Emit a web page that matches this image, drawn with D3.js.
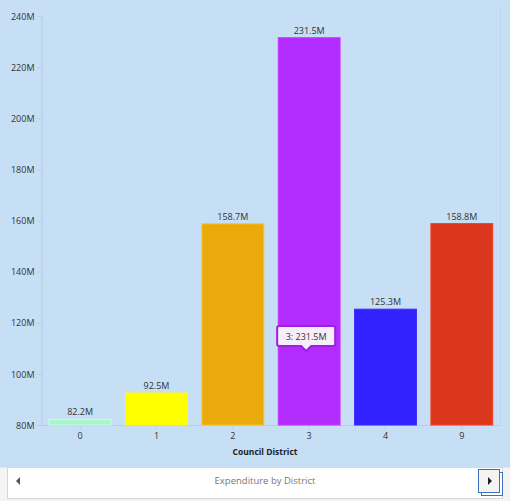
<!DOCTYPE html>
<html>
<head>
<meta charset="utf-8">
<title>Expenditure by District</title>
<style>
  body { margin: 0; background: #c6dff5; font-family: "Open Sans", "Noto Sans", sans-serif; }
  #chart { position: absolute; left: 0; top: 0; width: 510px; height: 501px; }
  text { font-family: "Open Sans", "Noto Sans", sans-serif; }
</style>
</head>
<body>
<div id="chart"></div>
<script src="https://cdn.jsdelivr.net/npm/d3@7"></script>
<script>

var districts = ["0", "1", "2", "3", "4", "9"];
var spending = [82.2, 92.5, 158.7, 231.5, 125.3, 158.8];
var barColors = ["#a9f5c9", "#ffff00", "#ebaa0c", "#b22cff", "#3322ff", "#db371c"];
var yTicks = [80, 100, 120, 140, 160, 180, 200, 220, 240];

var width = 510, height = 501;
var svg = d3.select("#chart").append("svg")
    .attr("width", width)
    .attr("height", height);

svg.append("rect")
    .attr("width", width)
    .attr("height", height)
    .attr("fill", "#c6dff5");

var x = d3.scaleBand()
    .domain(districts)
    .range([42, 500])
    .paddingInner(0.19)
    .paddingOuter(0.095);

var y = d3.scaleLinear()
    .domain([80, 240])
    .range([425, 16]);

// faint right border of plot
svg.append("line")
    .attr("x1", 500.5).attr("x2", 500.5)
    .attr("y1", 8).attr("y2", 425)
    .attr("stroke", "#bdd6ee");

// y axis
var yAxis = svg.append("g")
    .attr("transform", "translate(41.5,0)")
    .call(d3.axisLeft(y).tickValues(yTicks).tickSize(4).tickFormat(function(d) { return d + "M"; }));
yAxis.select(".domain").attr("stroke", "#b6cde3");
yAxis.selectAll(".tick line").attr("stroke", "#b6cde3");
yAxis.selectAll("text")
    .attr("fill", "#333")
    .attr("font-size", 9)
    .attr("dy", "0.35em")
    .attr("x", -7);

// x axis
var xAxis = svg.append("g")
    .attr("transform", "translate(0,425.5)")
    .call(d3.axisBottom(x).tickSize(4));
xAxis.select(".domain").attr("stroke", "#b6cde3").attr("d", "M41,0H500");
xAxis.selectAll(".tick line").attr("stroke", "#b6cde3");
xAxis.selectAll("text")
    .attr("fill", "#333")
    .attr("font-size", 9)
    .attr("y", 7);

svg.append("text")
    .attr("x", 265)
    .attr("y", 455)
    .attr("text-anchor", "middle")
    .attr("font-size", 8.5)
    .attr("font-weight", "bold")
    .attr("fill", "#222")
    .text("Council District");

// bars
svg.append("g")
    .selectAll("rect")
    .data(districts)
    .enter().append("rect")
    .attr("x", function(d) { return x(d); })
    .attr("y", function(d, i) { return y(spending[i]); })
    .attr("width", x.bandwidth())
    .attr("height", function(d, i) { return y(80) - y(spending[i]); })
    .attr("fill", function(d, i) { return barColors[i]; })
    .attr("stroke", function(d, i) { return d3.color(barColors[i]).brighter(0.4); })
    .attr("stroke-width", 1);

// value labels
svg.append("g")
    .selectAll("text")
    .data(districts)
    .enter().append("text")
    .attr("x", function(d) { return x(d) + x.bandwidth() / 2; })
    .attr("y", function(d, i) { return y(spending[i]) - 4; })
    .attr("text-anchor", "middle")
    .attr("font-size", 9)
    .attr("fill", "#333")
    .text(function(d, i) { return spending[i].toFixed(1) + "M"; });

// tooltip on district 3
var tipX = x("3") + x.bandwidth() / 2 - 3;
var tip = svg.append("g").attr("transform", "translate(" + tipX + ",336)");
tip.append("path")
    .attr("d", "M-27,-10 H27 a2,2 0 0 1 2,2 V8 a2,2 0 0 1 -2,2 H5 L0,15 L-5,10 H-27 a2,2 0 0 1 -2,-2 V-8 a2,2 0 0 1 2,-2 Z")
    .attr("fill", "#f7eefb")
    .attr("stroke", "#a020e0")
    .attr("stroke-width", 2);
tip.append("text")
    .attr("y", 3.5)
    .attr("text-anchor", "middle")
    .attr("font-size", 9)
    .attr("fill", "#333")
    .text("3: " + spending[3].toFixed(1) + "M");

// bottom pager panel
svg.append("rect")
    .attr("x", 0).attr("y", 467)
    .attr("width", width).attr("height", 34)
    .attr("fill", "#f4f4f4");
svg.append("rect")
    .attr("x", 7.5).attr("y", 467.5)
    .attr("width", 495).attr("height", 31)
    .attr("fill", "#fff")
    .attr("stroke", "#d6d6d6");
svg.append("rect")
    .attr("x", 0).attr("y", 466)
    .attr("width", width).attr("height", 1.5)
    .attr("fill", "#c6dff5");
svg.append("path")
    .attr("d", "M16,481 L20,477 L20,485 Z")
    .attr("fill", "#555");
svg.append("text")
    .attr("x", 265)
    .attr("y", 484)
    .attr("text-anchor", "middle")
    .attr("font-size", 9.5)
    .attr("fill", "#777")
    .text("Expenditure by District");
svg.append("rect")
    .attr("x", 481.5).attr("y", 472.5)
    .attr("width", 21).attr("height", 23)
    .attr("fill", "none")
    .attr("stroke", "#3a6fc4");
svg.append("rect")
    .attr("x", 478.5).attr("y", 469.5)
    .attr("width", 21).attr("height", 23)
    .attr("fill", "#f3f3f3")
    .attr("stroke", "#3a6fc4");
svg.append("path")
    .attr("d", "M488,477 L492,481 L488,485 Z")
    .attr("fill", "#222");

</script>
</body>
</html>
